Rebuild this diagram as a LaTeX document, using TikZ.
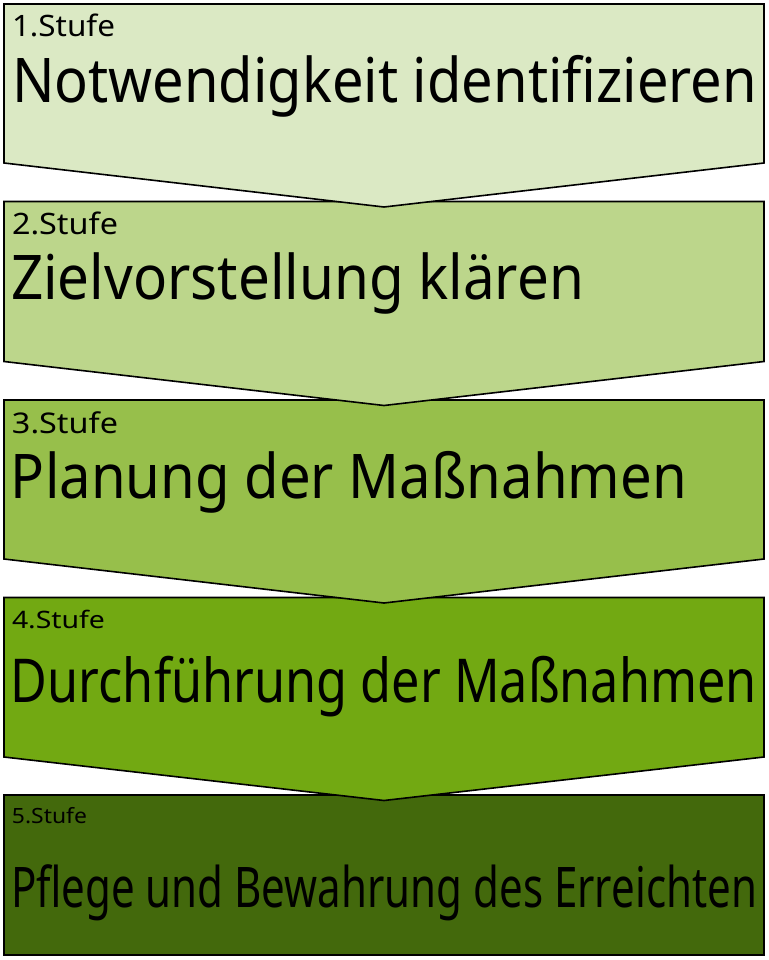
\documentclass[tikz,border=0pt]{standalone}
\usepackage{fontspec}
\setmainfont{Noto Sans}
\usepackage{graphicx}
\definecolor{gA}{RGB}{219,233,196}
\definecolor{gB}{RGB}{188,214,139}
\definecolor{gC}{RGB}{151,191,75}
\definecolor{gD}{RGB}{114,169,18}
\definecolor{gE}{RGB}{67,105,12}
\newcommand{\fittxt}[3]{\resizebox{#1pt}{\height}{\fontsize{#2}{#2}\selectfont #3}}
\begin{document}
\begin{tikzpicture}[x=1pt,y=1pt,
  stage/.style={draw=black,line width=1.6pt,line join=miter},
  txt/.style={anchor=base west,inner sep=0pt,outer sep=0pt,text=black}]
\useasboundingbox (0,0) rectangle (768,-960);
% shape 5 (rectangle)
\path[stage,fill=gE] (4,-795) rectangle (764,-955);
% shapes 4..1 (pentagon arrows), drawn bottom to top
\path[stage,fill=gD] (4,-597.5) -- (764,-597.5) -- (764,-757) -- (384,-800.5) -- (4,-757) -- cycle;
\path[stage,fill=gC] (4,-400) -- (764,-400) -- (764,-559) -- (384,-603) -- (4,-559) -- cycle;
\path[stage,fill=gB] (4,-201.5) -- (764,-201.5) -- (764,-361.5) -- (384,-405.5) -- (4,-361.5) -- cycle;
\path[stage,fill=gA] (4,-4) -- (764,-4) -- (764,-163) -- (384,-207) -- (4,-163) -- cycle;
% labels
\node[txt] (l1) at (12,-36.5) {\fittxt{103}{29.5}{1.Stufe}};
\node[txt] (m1) at (12,-102.5) {\fittxt{745}{61.6}{Notwendigkeit identifizieren}};
\node[txt] (l2) at (12,-234) {\fittxt{106}{29.5}{2.Stufe}};
\node[txt] (m2) at (11,-299) {\fittxt{573}{61.6}{Zielvorstellung klären}};
\node[txt] (l3) at (12,-433) {\fittxt{106}{28.5}{3.Stufe}};
\node[txt] (m3) at (11,-498) {\fittxt{676}{61.6}{Planung der Maßnahmen}};
\node[txt] (l4) at (12,-628.5) {\fittxt{93}{24}{4.Stufe}};
\node[txt] (m4) at (11,-702) {\fittxt{746}{60.5}{Durchführung der Maßnahmen}};
\node[txt] (l5) at (12,-823) {\fittxt{75}{21}{5.Stufe}};
\node[txt] (m5) at (11,-907.5) {\fittxt{746}{56}{Pflege und Bewahrung des Erreichten}};
\end{tikzpicture}
\end{document}
